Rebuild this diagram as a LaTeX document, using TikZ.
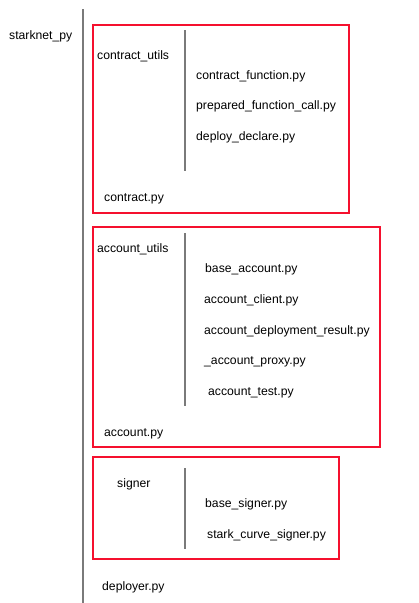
\documentclass[tikz,border=0pt]{standalone}
\usepackage{fontspec}
\setmainfont{Liberation Sans}
\definecolor{boxred}{HTML}{F5102E}
\definecolor{linegray}{HTML}{7A7A7A}
\begin{document}
\begin{tikzpicture}[x=1pt,y=-1pt,
  lbl/.style={anchor=west,inner sep=0pt,yshift=-1.5pt,font=\fontsize{12.2}{14}\selectfont},
  redbox/.style={draw=boxred,line width=1.8pt},
  vline/.style={draw=linegray,line width=1.6pt}]
\useasboundingbox (0,0) rectangle (419,603);
% main line
\coordinate (mtop) at (83,9);
\coordinate (mbot) at (83,603);
\draw[vline] (mtop) -- (mbot);
\node[lbl] (root) at (9,35) {starknet\_py};
% box 1
\node[redbox,inner sep=0pt,minimum width=256pt,minimum height=188pt,anchor=north west] (b1) at (92,24) {};
\coordinate (l1t) at (185,30);
\coordinate (l1b) at (185,171);
\draw[vline] (l1t) -- (l1b);
\node[lbl] (cu) at (97,55) {contract\_utils};
\node[lbl] (cf) at (196,75) {contract\_function.py};
\node[lbl] (pf) at (196,105) {prepared\_function\_call.py};
\node[lbl] (dd) at (196,136) {deploy\_declare.py};
\node[lbl] (cp) at (104,197) {contract.py};
% box 2
\node[redbox,inner sep=0pt,minimum width=287pt,minimum height=220pt,anchor=north west] (b2) at (92,226) {};
\coordinate (l2t) at (185,233);
\coordinate (l2b) at (185,406);
\draw[vline] (l2t) -- (l2b);
\node[lbl] (au) at (97,248) {account\_utils};
\node[lbl] (ba) at (205,268) {base\_account.py};
\node[lbl] (ac) at (204,299) {account\_client.py};
\node[lbl] (ad) at (204,330) {account\_deployment\_result.py};
\node[lbl] (ap) at (204,360) {\_account\_proxy.py};
\node[lbl] (at) at (208,391) {account\_test.py};
\node[lbl] (acp) at (104,432) {account.py};
% box 3
\node[redbox,inner sep=0pt,minimum width=246pt,minimum height=102pt,anchor=north west] (b3) at (92,456) {};
\coordinate (l3t) at (185,468);
\coordinate (l3b) at (185,549);
\draw[vline] (l3t) -- (l3b);
\node[lbl] (sg) at (117,483) {signer};
\node[lbl] (bs) at (205,503) {base\_signer.py};
\node[lbl] (sc) at (207,534) {stark\_curve\_signer.py};
\node[lbl] (dp) at (102,586) {deployer.py};
\end{tikzpicture}
\end{document}
